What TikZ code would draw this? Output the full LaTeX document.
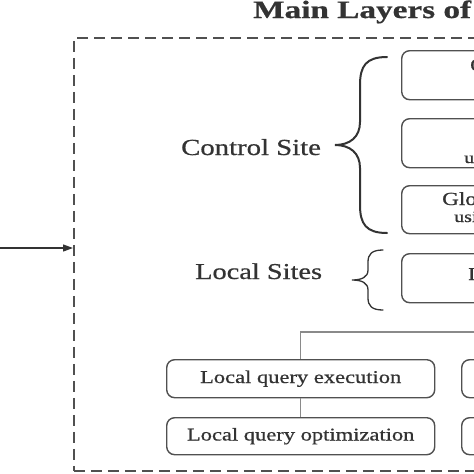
\documentclass[tikz,border=0pt]{standalone}
\usepackage{fontspec}
\setmainfont{Liberation Serif}[FakeBold=0.6]
\usetikzlibrary{arrows.meta}
\definecolor{ink}{HTML}{333333}
\definecolor{edgec}{HTML}{505050}
\definecolor{conn}{HTML}{8A8A8A}
\newcommand{\wide}[1]{\scalebox{1.25}[1]{#1}}
\begin{document}
\begin{tikzpicture}[x=1pt,y=1pt,
  layerbox/.style={draw=edgec, line width=1.4pt, rounded corners=8pt, fill=white, inner sep=0pt, anchor=north west, text=ink, font=\fontsize{18}{22}\selectfont},
  lbl/.style={inner sep=0pt, anchor=base west, text=ink},
  link/.style={draw=conn, line width=1.2pt},
  bracec/.style={draw=ink, line cap=round}]
\useasboundingbox (0,0) rectangle (474,-474);
\clip (0,0) rectangle (474,-474);
\fill[white] (0,0) rectangle (474,-474);

% title
\node[lbl, font=\bfseries\fontsize{25}{28}\selectfont] (title) at (253,-18) {\scalebox{1.33}[1]{Main Layers of}};

% dashed frame
\node[draw=edgec, line width=1.8pt, dash pattern=on 11pt off 6pt, inner sep=0pt,
      minimum width=700pt, minimum height=433pt, anchor=north west] (frame) at (73,-37) {};

% incoming arrow
\coordinate (src) at (0,-248);
\draw[ink, line width=1.2pt, -{Triangle[length=10pt,width=7pt]}] (src) -- (src -| frame.west);

% control-site boxes
\node[layerbox, minimum width=300pt, minimum height=49pt] (b1) at (401,-50) {};
\node[layerbox, minimum width=300pt, minimum height=49pt] (b2) at (401,-118) {};
\node[layerbox, minimum width=300pt, minimum height=48pt] (b3) at (401,-185) {};
\node[layerbox, minimum width=300pt, minimum height=49pt] (b4) at (401,-253) {};

\node[lbl, font=\fontsize{18}{22}\selectfont] (t1) at (470,-71) {\wide{Query decomposition}};
\node[lbl, font=\fontsize{16}{20}\selectfont] (t2) at (464,-163) {\wide{using fragment schema}};
\node[lbl, font=\fontsize{18.5}{22}\selectfont] (t3a) at (442,-205) {\wide{Global optimization}};
\node[lbl, font=\fontsize{16}{20}\selectfont] (t3b) at (454,-222) {\wide{using statistics}};
\node[lbl, font=\fontsize{18}{22}\selectfont] (t4) at (468,-280) {\wide{Local optimization}};

% side labels
\node[lbl, font=\fontsize{23}{27}\selectfont] (cs) at (181,-155) {\wide{Control Site}};
\node[lbl, font=\fontsize{22.7}{27}\selectfont] (ls) at (195,-279) {\wide{Local Sites}};

% braces
\draw[bracec, line width=2pt] (387,-57) .. controls (366,-57) and (360,-66) .. (360,-85)
  -- (360,-122) .. controls (360,-137) and (350,-145) .. (335,-145)
  .. controls (350,-145) and (360,-153) .. (360,-168)
  -- (360,-205) .. controls (360,-224) and (366,-233) .. (387,-233);
\draw[bracec, line width=1.3pt] (383,-250) .. controls (372,-250) and (368,-254) .. (368,-262)
  -- (368,-270) .. controls (368,-277) and (362,-280) .. (352,-280)
  .. controls (362,-280) and (368,-283) .. (368,-290)
  -- (368,-298) .. controls (368,-306) and (372,-310) .. (383,-310);

% local boxes
\node[layerbox, minimum width=268pt, minimum height=38pt] (lqe) at (166,-359) {\wide{Local query execution}};
\node[layerbox, minimum width=268pt, minimum height=37pt] (lqo) at (166,-417) {\wide{Local query optimization}};
\node[layerbox, minimum width=268pt, minimum height=38pt] (rqe) at (461,-359) {};
\node[layerbox, minimum width=268pt, minimum height=37pt] (rqo) at (461,-417) {};

% connectors
\coordinate (hub) at (lqe.north |- 0,-332);
\coordinate (hubr) at (600,-332);
\draw[link] (lqe.north) -- (hub) -- (hubr);
\draw[link] (lqe.south) -- (lqo.north);
\end{tikzpicture}
\end{document}
